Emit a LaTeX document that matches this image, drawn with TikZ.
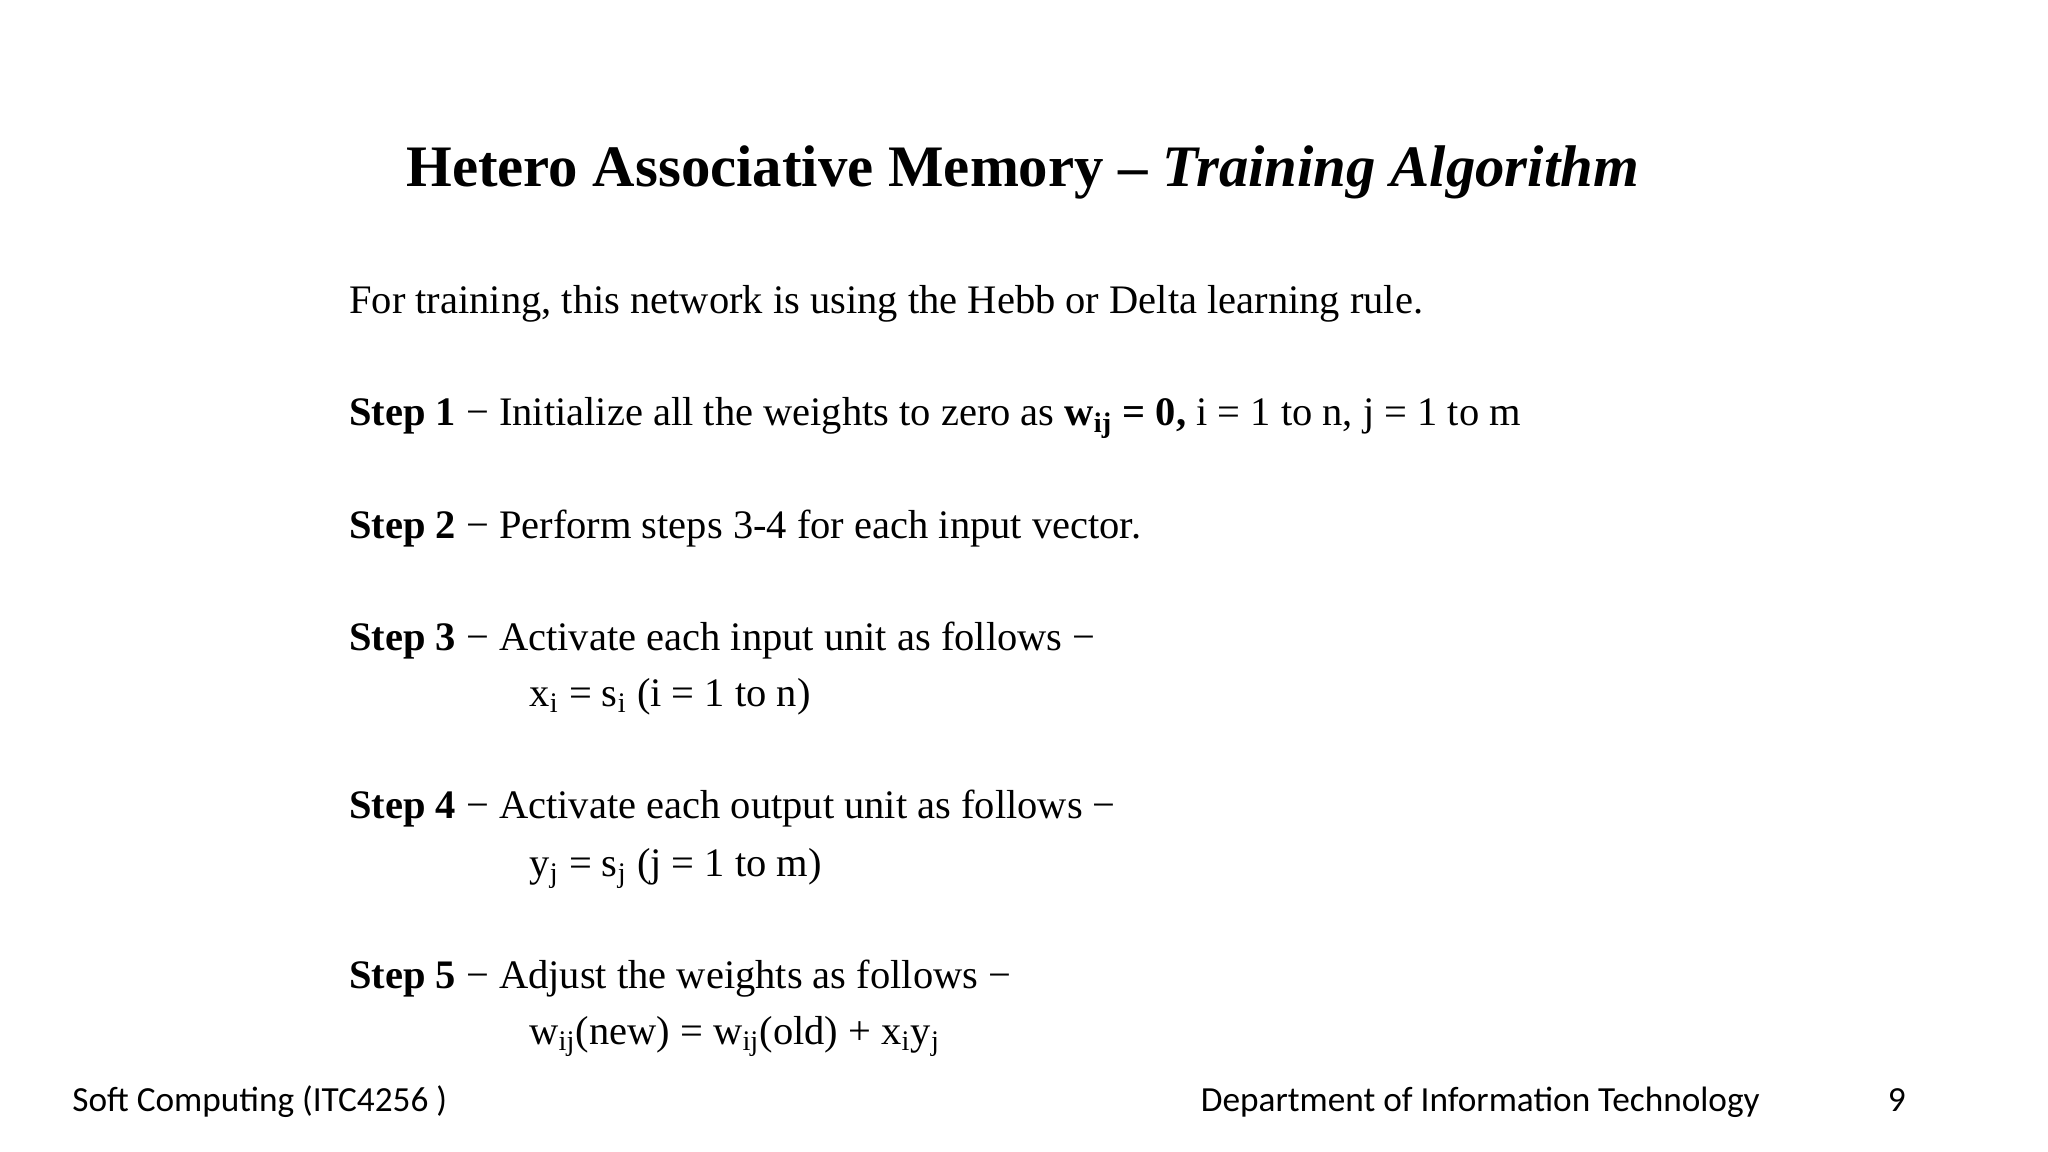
\documentclass[tikz,border=0pt]{standalone}
\usepackage{fontspec}
\setmainfont{Liberation Serif}
\newfontfamily\footfont{Carlito}
\newcommand{\sbs}[1]{\textsubscript{#1}}
\begin{document}
\begin{tikzpicture}[x=0.5pt,y=-0.5pt,
  body/.style={anchor=base west,inner sep=0pt,font=\fontsize{15.5pt}{18pt}\selectfont},
  foot/.style={anchor=base west,inner sep=0pt,font=\footfont\fontsize{13.5pt}{16pt}\selectfont}]
\useasboundingbox[fill=white] (0,0) rectangle (1568,882);
\node[anchor=base,inner sep=0pt,font=\fontsize{22.5pt}{26pt}\selectfont\bfseries] (title) at (783,143) {Hetero Associative Memory – \textit{Training Algorithm}};
\node[body] (l0) at (267,240) {For training, this network is using the Hebb or Delta learning rule.};
\node[body] (s1) at (267,326) {\textbf{Step 1} − Initialize all the weights to zero as \textbf{w\sbs{ij} = 0,} i = 1 to n, j = 1 to m};
\node[body] (s2) at (267,412) {\textbf{Step 2} − Perform steps 3-4 for each input vector.};
\node[body] (s3) at (267,498) {\textbf{Step 3} − Activate each input unit as follows −};
\node[body] (e3) at (405,541) {x\sbs{i} = s\sbs{i} (i = 1 to n)};
\node[body] (s4) at (267,627) {\textbf{Step 4} − Activate each output unit as follows −};
\node[body] (e4) at (405,671) {y\sbs{j} = s\sbs{j} (j = 1 to m)};
\node[body] (s5) at (267,757) {\textbf{Step 5} − Adjust the weights as follows −};
\node[body] (e5) at (405,800) {w\sbs{ij}(new) = w\sbs{ij}(old) + x\sbs{i}y\sbs{j}};
\node[foot] (f1) at (55,851) {Soft Computing (ITC4256 )};
\node[foot] (f2) at (919,851) {Department of Information Technology};
\node[foot] (f3) at (1445,851) {9};
\end{tikzpicture}
\end{document}
